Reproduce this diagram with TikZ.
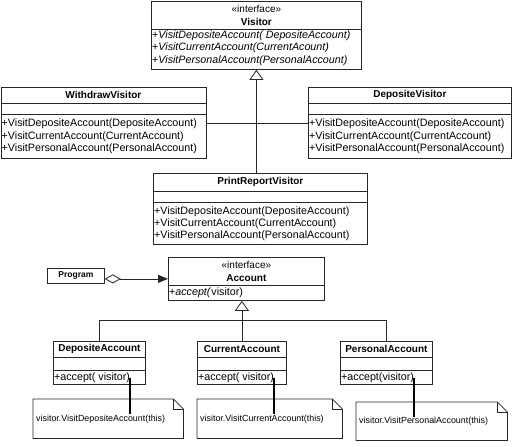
\documentclass[tikz,border=0pt]{standalone}
\usepackage{fontspec}
\setmainfont{Liberation Sans}
\usetikzlibrary{arrows.meta}

\tikzset{
  cls/.style={draw=black!85, line width=0.8pt, anchor=north west, inner sep=0pt, fill=white},
  sep/.style={draw=black!85, line width=0.8pt},
  ttl/.style={anchor=north, inner sep=0pt, font=\fontsize{10}{12.5}\selectfont\bfseries},
  stereo/.style={anchor=north, inner sep=0pt, align=center, font=\fontsize{10}{12.5}\selectfont},
  ops/.style={anchor=north west, align=left, inner sep=0pt, font=\fontsize{10.7}{12.3}\selectfont},
  notebox/.style={anchor=north west, inner sep=0pt},
  notetxt/.style={anchor=west, inner sep=0pt, font=\fontsize{8.9}{10}\selectfont},
  gen/.style={sep, -{Triangle[open, width=14pt, length=10pt]}},
  aggr/.style={sep, {Diamond[open, length=16pt, width=9pt]}-{Triangle[length=10pt, width=8pt]}},
  link/.style={draw=black, line width=1.6pt},
}

\begin{document}
\begin{tikzpicture}[x=1pt, y=-1pt]
  \useasboundingbox[fill=white] (0,0) rectangle (520,447);

  % 1. Visitor side
  \node[cls, minimum width=210, minimum height=68] (vis) at (151,1) {};
  \node[stereo, minimum height=28] (visT) at (vis.north) {«interface»\\\textbf{Visitor}};
  \draw[sep] (vis.west |- 0,29) -- (vis.east |- 0,29);
  \node[ops] (visO) at (152,30.5) {+\textit{VisitDepositeAccount( DepositeAccount)}\\
    +\textit{VisitCurrentAccount(CurrentAcount)}\\
    +\textit{VisitPersonalAccount(PersonalAccount)}};

  \node[cls, minimum width=205, minimum height=71] (wv) at (0.5,87) {};
  \node[ttl, minimum height=16] (wvT) at (wv.north) {WithdrawVisitor};
  \draw[sep] (wv.west |- 0,103) -- (wv.east |- 0,103);
  \draw[sep] (wv.west |- 0,114) -- (wv.east |- 0,114);
  \node[ops] (wvO) at (1.5,118.9) {+VisitDepositeAccount(DepositeAccount)\\
    +VisitCurrentAccount(CurrentAccount)\\
    +VisitPersonalAccount(PersonalAccount)};

  \node[cls, minimum width=203, minimum height=71] (dv) at (308,87) {};
  \node[ttl, minimum height=16] (dvT) at (dv.north) {DepositeVisitor};
  \draw[sep] (dv.west |- 0,103) -- (dv.east |- 0,103);
  \draw[sep] (dv.west |- 0,114) -- (dv.east |- 0,114);
  \node[ops] (dvO) at (309,118.9) {+VisitDepositeAccount(DepositeAccount)\\
    +VisitCurrentAccount(CurrentAccount)\\
    +VisitPersonalAccount(PersonalAccount)};

  \node[cls, minimum width=214, minimum height=71] (prv) at (153,173) {};
  \node[ttl, minimum height=18] (prvT) at (prv.north) {PrintReportVisitor};
  \draw[sep] (prv.west |- 0,191) -- (prv.east |- 0,191);
  \draw[sep] (prv.west |- 0,202) -- (prv.east |- 0,202);
  \node[ops] (prvO) at (154,206.4) {+VisitDepositeAccount(DepositeAccount)\\
    +VisitCurrentAccount(CurrentAccount)\\
    +VisitPersonalAccount(PersonalAccount)};

  % inheritance of the visitors
  \draw[sep] (wv.east) -- (dv.west);
  \draw[gen] (prv.north -| vis.south) -- (vis.south);

  % 2. Account side
  \node[cls, minimum width=156, minimum height=43] (acc) at (168,257) {};
  \node[stereo, minimum height=28] (accT) at (acc.north) {«interface»\\\textbf{Account}};
  \draw[sep] (acc.west |- 0,285) -- (acc.east |- 0,285);
  \node[ops] (accO) at (169,287.4) {+\textit{accept(}visitor)};

  \node[cls, minimum width=57, minimum height=14.5] (prog) at (47,268) {};
  \node[anchor=center, inner sep=0pt, font=\fontsize{8.5}{10}\selectfont\bfseries] (progT) at (prog.center) {Program};
  \draw[aggr] (acc.west -| prog.east) -- (acc.west);

  \node[cls, minimum width=92, minimum height=43] (da) at (53,341) {};
  \node[cls, minimum width=89, minimum height=43] (ca) at (197,341) {};
  \node[cls, minimum width=92, minimum height=43] (pa) at (340,341) {};
  \node[ttl, minimum height=16] (daT) at (da.north) {DepositeAccount};
  \node[ttl, minimum height=16] (caT) at (ca.north) {CurrentAccount};
  \node[ttl, minimum height=16] (paT) at (pa.north) {PersonalAccount};
  \foreach \c in {da,ca,pa} {
    \draw[sep] (\c.west |- 0,357) -- (\c.east |- 0,357);
    \draw[sep] (\c.west |- 0,370) -- (\c.east |- 0,370);
  }
  \node[ops] (daO) at (54,372.4) {+accept( visitor)};
  \node[ops] (caO) at (198,372.4) {+accept( visitor)};
  \node[ops] (paO) at (341,372.4) {+accept(visitor)};

  % inheritance of the accounts
  \coordinate (bus) at (0,320);
  \draw[sep] (da.north) -- (da.north |- bus) -- (pa.north |- bus) -- (pa.north);
  \draw[gen] (ca.north) -- (ca.north |- acc.south);

  % 3. Notes
  \node[notebox, minimum width=150, minimum height=39] (dn) at (33,399) {};
  \node[notebox, minimum width=145, minimum height=39] (cn) at (197,399) {};
  \node[notebox, minimum width=151, minimum height=38] (pn) at (356,402) {};
  \foreach \n in {dn,cn,pn} {
    \draw[sep] (\n.north west) -- ([xshift=-10pt]\n.north east) -- ([yshift=-10pt]\n.north east)
      -- (\n.south east) -- (\n.south west) -- cycle;
    \draw[sep] ([xshift=-10pt]\n.north east) -- ([xshift=-10pt,yshift=-10pt]\n.north east)
      -- ([yshift=-10pt]\n.north east);
  }
  \node[notetxt] (dnT) at ([xshift=3pt]dn.west) {visitor.VisitDepositeAccount(this)};
  \node[notetxt] (cnT) at ([xshift=3pt]cn.west) {visitor.VisitCurrentAccount(this)};
  \node[notetxt] (pnT) at ([xshift=3pt]pn.west) {visitor.VisitPersonalAccount(this)};

  \draw[link] (daO.east) -- (daO.east |- dnT.north);
  \draw[link] (caO.east) -- (caO.east |- cnT.north);
  \draw[link] (paO.east) -- (paO.east |- pnT.north);
\end{tikzpicture}
\end{document}
